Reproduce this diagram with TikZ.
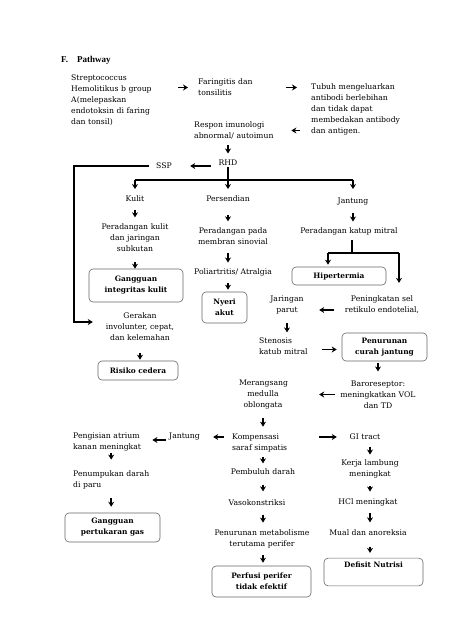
\documentclass[tikz,border=0pt]{standalone}
\usepackage{fontspec}
\setmainfont{DejaVu Serif}
\newfontfamily\titlefont{Liberation Serif}
\usetikzlibrary{arrows.meta}

\begin{document}
\begin{tikzpicture}[x=1pt,y=-1pt,
  every node/.style={font=\fontsize{7.7}{11}\selectfont, inner sep=1pt},
  txt/.style={align=center, text width=#1},
  ltxt/.style={align=left, anchor=west, text width=#1},
  diag/.style={draw=black!60, rounded corners=4pt, line width=0.6pt, align=center,
    font=\fontsize{7.4}{11}\selectfont\bfseries},
  arr/.style={-{Stealth[length=5pt,width=6pt]}, line width=1.5pt},
  line/.style={line width=1.5pt}]
  \useasboundingbox (0,0) rectangle (474,632);

  \node[anchor=west, font=\titlefont\fontsize{9}{11}\selectfont\bfseries] (title) at (60,60) {F.\hspace{9pt}Pathway};

  \node[ltxt=90pt] (strep) at (70,100) {Streptococcus\\Hemolitikus b group\\A(melepaskan\\endotoksin di faring\\dan tonsil)};
  \node[ltxt=62pt] (faring) at (197,87.5) {Faringitis dan\\tonsilitis};
  \node[ltxt=95pt] (tubuh) at (310,109) {Tubuh mengeluarkan\\antibodi berlebihan\\dan tidak dapat\\membedakan antibody\\dan antigen.};
  \node[ltxt=88pt] (respon) at (193,130.5) {Respon imunologi\\abnormal/ autoimun};
  \node[txt=22pt] (rhd) at (228,163) {RHD};
  \node[txt=18pt] (ssp) at (164,166) {SSP};

  \node (kulit) at (135,199) {Kulit};
  \node (sendi) at (228,199) {Persendian};
  \node (jantungA) at (353,202) {Jantung};

  \node[txt=84pt] (radkulit) at (135,238) {Peradangan kulit\\dan jaringan\\subkutan};
  \node[diag, minimum width=94pt, minimum height=33pt] (integ) at (136,285.5) {Gangguan\\integritas kulit};
  \node[txt=84pt] (gerak) at (140,327) {Gerakan\\involunter, cepat,\\dan kelemahan};
  \node[diag, minimum width=80pt, minimum height=19pt] (cedera) at (138,370.5) {Risiko cedera};

  \node[txt=92pt] (radsendi) at (233,236.5) {Peradangan pada\\membran sinovial};
  \node (poli) at (233,272) {Poliartritis/ Atralgia};
  \node[diag, minimum width=45pt, minimum height=31pt] (nyeri) at (224.5,307.5) {Nyeri\\akut};

  \node (radkatup) at (349,231) {Peradangan katup mitral};
  \coordinate (split) at (352,253);
  \coordinate (splitL) at (328,253);
  \coordinate (splitR) at (399,253);
  \node[diag, minimum width=94pt, minimum height=18pt] (hiper) at (339,276) {Hipertermia};
  \node[txt=92pt] (retikulo) at (382,304.5) {Peningkatan sel\\retikulo endotelial,};
  \node[txt=42pt] (parut) at (287,304.5) {Jaringan\\parut};
  \node[ltxt=54pt] (stenosis) at (258,346.5) {Stenosis\\katub mitral};
  \node[diag, minimum width=85pt, minimum height=28pt] (curah) at (384.5,347) {Penurunan\\curah jantung};
  \node[txt=78pt] (baro) at (378,394.5) {Baroreseptor:\\meningkatkan VOL\\dan TD};
  \node[txt=48pt] (medulla) at (263,394.5) {Merangsang\\medulla\\oblongata};

  \node[ltxt=66pt] (kompen) at (231,443) {Kompensasi\\saraf simpatis};
  \node[txt=35pt] (jantungB) at (184.5,437) {Jantung};
  \node[ltxt=76pt] (atrium) at (72,442.5) {Pengisian atrium\\kanan meningkat};
  \node[ltxt=90pt] (paru) at (72,480) {Penumpukan darah\\di paru};
  \node[diag, minimum width=95pt, minimum height=29pt] (gasbox) at (112.5,527.5) {Gangguan\\pertukaran gas};

  \node[txt=34pt] (gitract) at (365,437) {GI tract};
  \node[txt=72pt] (lambung) at (370,469) {Kerja lambung\\meningkat};
  \node (hcl) at (368,502) {HCl meningkat};
  \node (mual) at (368,533) {Mual dan anoreksia};
  \node[diag, minimum width=99pt, text depth=14pt, inner sep=4pt] (nutrisi) at (373.5,572) {Defisit Nutrisi};

  \node (pembuluh) at (263,472) {Pembuluh darah};
  \node (vaso) at (257,503) {Vasokonstriksi};
  \node[txt=112pt] (metab) at (262,538.5) {Penurunan metabolisme\\terutama perifer};
  \node[diag, minimum width=99pt, minimum height=31pt] (perfusi) at (261.5,581.5) {Perfusi perifer\\tidak efektif};

  \draw[arr, shorten <=16pt, shorten >=9pt] (strep.east |- faring.west) -- (faring.west);
  \draw[arr, shorten <=25pt, shorten >=13pt] (faring.east) -- (faring.east -| tubuh.west);
  \draw[arr, shorten <=10pt, shorten >=8pt] (tubuh.west |- respon.east) -- (respon.east);
  \draw[arr, shorten <=4.5pt, shorten >=5.5pt] (rhd.north |- respon.south) -- (rhd.north);
  \draw[arr, shorten <=5pt, shorten >=16pt] (rhd.west |- ssp.east) -- (ssp.east);
  \coordinate (bar) at (228,180);
  \coordinate (sspbend) at (74,166);
  \draw[line] (rhd.south) -- (bar);
  \draw[line] (kulit.north |- bar) -- (jantungA.north |- bar);
  \foreach \n in {kulit,sendi,jantungA}
    \draw[arr] (\n.north |- bar) -- ++(0,9);
  \draw[arr, shorten <=5pt, shorten >=4pt] (ssp.west) -- (sspbend) |- ([yshift=5pt]gerak.west);

  \draw[arr, shorten <=6.5pt, shorten >=5.5pt] (kulit.south) -- (kulit.south |- radkulit.north);
  \draw[arr, shorten <=9pt] (radkulit.south) -- (radkulit.south |- integ.north);
  \draw[arr, shorten <=10.5pt, shorten >=1pt] (gerak.south) -- (gerak.south |- cedera.north);

  \draw[arr, shorten <=11.5pt, shorten >=5.5pt] (sendi.south) -- (sendi.south |- radsendi.north);
  \draw[arr, shorten <=6.5pt, shorten >=4.5pt] (sendi.south |- radsendi.south) -- (sendi.south |- poli.north);
  \draw[arr, shorten <=6.5pt, shorten >=2pt] (sendi.south |- poli.south) -- (sendi.south |- nyeri.north);

  \draw[arr, shorten <=6.5pt, shorten >=4.5pt] (jantungA.south) -- (jantungA.south |- radkatup.north);
  \draw[line, shorten <=4.5pt] (split |- radkatup.south) -- (split);
  \draw[line] (splitL) -- (splitR);
  \draw[arr, shorten >=2pt] (splitL) -- (splitL |- hiper.north);
  \draw[arr, shorten >=11.5pt] (splitR) -- (splitR |- retikulo.north);
  \draw[arr, shorten <=0.5pt, shorten >=10pt] ([yshift=-5.5pt]retikulo.west) -- ([yshift=-5.5pt]parut.east);
  \draw[arr, shorten <=8.5pt, shorten >=4.5pt] (parut.south) -- (parut.south |- stenosis.north);
  \draw[arr, shorten <=8pt, shorten >=5pt] ([yshift=-3pt]stenosis.east) -- ([yshift=-3pt]stenosis.east -| curah.west);
  \draw[arr, shorten <=2pt, shorten >=8pt] (baro.north |- curah.south) -- (baro.north);
  \draw[arr, shorten <=3pt, shorten >=31pt] (baro.west) -- (medulla.east);
  \draw[arr, shorten <=8pt, shorten >=6pt] (medulla.south) -- (medulla.south |- kompen.north);

  \draw[arr, shorten <=7pt, shorten >=10pt] (kompen.west |- jantungB.east) -- (jantungB.east);
  \draw[arr, shorten >=2pt] ([yshift=-3pt]jantungB.west) -- ([yshift=-3pt]jantungB.west -| atrium.east);
  \draw[arr, shorten <=0.5pt, shorten >=10pt] (atrium.south) -- (atrium.south |- paru.north);
  \draw[arr, shorten <=8pt, shorten >=6pt] (atrium.south |- paru.south) -- (atrium.south |- gasbox.north);

  \draw[arr, shorten <=20pt, shorten >=10pt] (kompen.east |- gitract.west) -- (gitract.west);
  \draw[arr, shorten <=5.5pt, shorten >=4pt] (lambung.north |- gitract.south) -- (lambung.north);
  \draw[arr, shorten <=7pt, shorten >=5.5pt] (lambung.south) -- (lambung.south |- hcl.north);
  \draw[arr, shorten <=6.5pt, shorten >=6.5pt] (lambung.south |- hcl.south) -- (lambung.south |- mual.north);
  \draw[arr, shorten <=9.5pt, shorten >=5pt] (lambung.south |- mual.south) -- (lambung.south |- nutrisi.north);

  \draw[arr, shorten <=4pt, shorten >=4.5pt] (pembuluh.north |- kompen.south) -- (pembuluh.north);
  \draw[arr, shorten <=8.5pt, shorten >=7.5pt] (pembuluh.south) -- (pembuluh.south |- vaso.north);
  \draw[arr, shorten <=7.5pt, shorten >=5.5pt] (pembuluh.south |- vaso.south) -- (pembuluh.south |- metab.north);
  \draw[arr, shorten <=6.5pt, shorten >=3pt] (pembuluh.south |- metab.south) -- (pembuluh.south |- perfusi.north);
\end{tikzpicture}
\end{document}
